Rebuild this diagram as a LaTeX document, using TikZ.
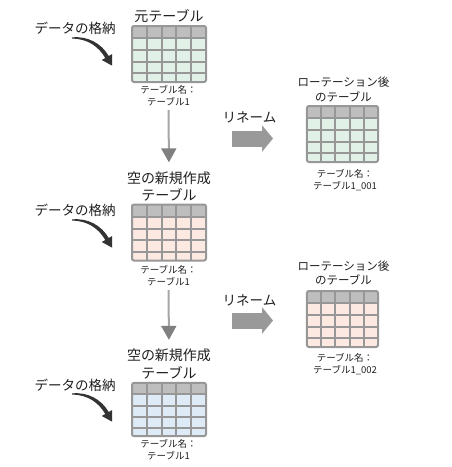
\documentclass[tikz,border=0pt]{standalone}
\usepackage{fontspec}
\setmainfont{Noto Sans CJK JP}
\usetikzlibrary{arrows.meta}
\definecolor{gridgray}{HTML}{979797}
\definecolor{headgray}{HTML}{BEBEBE}
\definecolor{cellgreen}{HTML}{E1F1E8}
\definecolor{cellpink}{HTML}{FCE9E1}
\definecolor{cellblue}{HTML}{DEEAF6}
\definecolor{txt}{HTML}{1E1E1E}
\definecolor{arrowdark}{HTML}{333333}
\definecolor{downline}{HTML}{A6A6A6}
\definecolor{downhead}{HTML}{808080}
\definecolor{blockgray}{HTML}{999999}
\tikzset{
  pics/datatable/.style={code={
    \fill[#1] (-37,-28) rectangle (37,28);
    \fill[headgray] (-37,-28) rectangle (37,-16);
    \draw[gridgray,line width=2pt] (-37,-16) -- (37,-16) (-37,-4) -- (37,-4)
      (-37,7.5) -- (37,7.5) (-37,19) -- (37,19);
    \foreach \i in {1,...,4} \draw[gridgray,line width=2pt] ({-37+14.8*\i},-28) -- ({-37+14.8*\i},28);
    \draw[gridgray,line width=2pt,rounded corners=2pt] (-37,-28) rectangle (37,28);
    \coordinate (-c) at (0,0);
  }},
  pics/storearrow/.style={code={
    \fill[arrowdark] (0,-0.6) .. controls (16,-2.2) and (29.5,5.5) .. (36.7,18)
      -- (40.2,16) -- (40,27.6) -- (29.8,22) -- (33.3,20)
      .. controls (26.5,8.5) and (16,0.8) .. (0,0.6) -- cycle;
  }},
  ttl/.style={text=txt,inner sep=0pt,align=center,font=\fontsize{14}{17.5}\selectfont},
  stor/.style={text=txt,inner sep=0pt,font=\fontsize{13.5}{16}\selectfont},
  rttl/.style={text=txt,inner sep=0pt,align=center,font=\fontsize{11.5}{14.5}\selectfont},
  lbl/.style={text=txt,inner sep=0pt,align=center,font=\fontsize{9.5}{12}\selectfont},
  downarrow/.style={draw=downline,line width=2pt,
    -{Triangle[width=15pt,length=14pt,color=downhead]}},
  blockarrow/.style={draw=blockgray,line width=16pt,
    -{Triangle[width=26pt,length=11pt]}},
}
\begin{document}
\begin{tikzpicture}[x=1pt,y=-1pt]
\useasboundingbox (0,0) rectangle (451,467);
% left column
\node[ttl] (t1t) at (169,16) {元テーブル};
\pic (t1) at (169,54) {datatable=cellgreen};
\node[lbl] (t1l) at (168.5,96) {テーブル名：\\テーブル1};
\node[stor] (s1) at (75,28) {データの格納};
\pic at (72,38) {storearrow};

\node[ttl] (t2t) at (169,186.5) {空の新規作成\\テーブル};
\pic (t2) at (169,232.5) {datatable=cellpink};
\node[lbl] (t2l) at (168.5,276) {テーブル名：\\テーブル1};
\node[stor] (s2) at (75,210) {データの格納};
\pic at (72,220) {storearrow};

\node[ttl] (t3t) at (169,364) {空の新規作成\\テーブル};
\pic[yscale=0.95] (t3) at (169,409.5) {datatable=cellblue};
\node[lbl] (t3l) at (168.5,449.5) {テーブル名：\\テーブル1};
\node[stor] (s3) at (75,385) {データの格納};
\pic at (72,394) {storearrow};

\draw[downarrow,shorten <=3.5pt,shorten >=9pt] (t1l.south) -- (t2t.north);
\draw[downarrow,shorten <=3.5pt,shorten >=9pt] (t2l.south) -- (t3t.north);

% right column
\node[rttl] (t4t) at (343.5,89.5) {ローテーション後\\のテーブル};
\pic[xscale=0.96] (t4) at (342.5,134) {datatable=cellgreen};
\node[lbl] (t4l) at (345,180.5) {テーブル名：\\テーブル1\_001};

\node[rttl] (t5t) at (343.5,273) {ローテーション後\\のテーブル};
\pic[xscale=0.96] (t5) at (342.5,319) {datatable=cellpink};
\node[lbl] (t5l) at (345,364) {テーブル名：\\テーブル1\_002};

\node[stor] (r1) at (249.5,117.5) {リネーム};
\coordinate (r1s) at (232,138.5);
\coordinate (r1e) at (273,138.5);
\draw[blockarrow] (r1s) -- (r1e);

\node[stor] (r2) at (249.5,300) {リネーム};
\coordinate (r2s) at (232,320.5);
\coordinate (r2e) at (273,320.5);
\draw[blockarrow] (r2s) -- (r2e);
\end{tikzpicture}
\end{document}
